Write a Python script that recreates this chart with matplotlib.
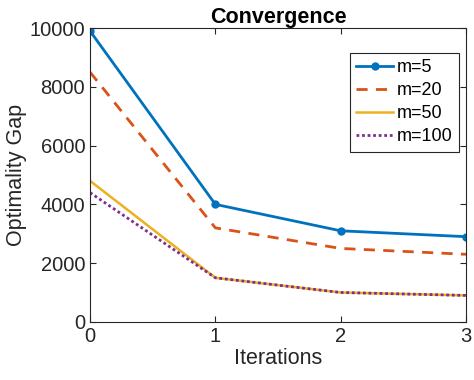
import matplotlib
matplotlib.use("Agg")
import matplotlib.pyplot as plt

plt.rcParams['font.family'] = ['Liberation Sans', 'DejaVu Sans']

# data
iters = [0, 1, 2, 3]
m5 = [9900, 4000, 3100, 2900]
m20 = [8500, 3200, 2500, 2300]
m50 = [4800, 1500, 1000, 900]
m100 = [4400, 1500, 1000, 900]

fig = plt.figure(figsize=(4.74, 3.8), dpi=100)
ax = fig.add_axes([0.19, 0.153, 0.793, 0.773])

ax.plot(iters, m5, color='#0072BD', lw=2, marker='o', ms=5, label='m=5')
ax.plot(iters, m20, color='#D95319', lw=2, ls=(0, (4, 3)), label='m=20')
ax.plot(iters, m50, color='#EDB120', lw=1.8, label='m=50')
ax.plot(iters, m100, color='#7E2F8E', lw=2, ls=(0, (1, 1)), label='m=100')

ax.set_xlim(0, 3)
ax.set_ylim(0, 10000)
ax.set_xticks([0, 1, 2, 3])
ax.set_yticks(range(0, 10001, 2000))
ax.tick_params(direction='in', top=True, right=True, labelsize=14.5, colors='#262626', length=4)
for s in ax.spines.values():
    s.set_color('#262626')
    s.set_linewidth(0.8)

ax.set_title('Convergence', fontsize=15.5, fontweight='bold', pad=4)
ax.set_xlabel('Iterations', fontsize=15.5, color='#262626', labelpad=2)
ax.set_ylabel('Optimality Gap', fontsize=15.5, color='#262626', labelpad=2)

leg = ax.legend(loc='upper right', bbox_to_anchor=(0.982, 0.915), fontsize=13, fancybox=False,
                edgecolor='#262626', framealpha=1, handlelength=2.0, borderpad=0.35,
                labelspacing=0.33, handletextpad=0.25, borderaxespad=0)
leg.get_frame().set_linewidth(0.8)

fig.savefig('out.png', dpi=100)
